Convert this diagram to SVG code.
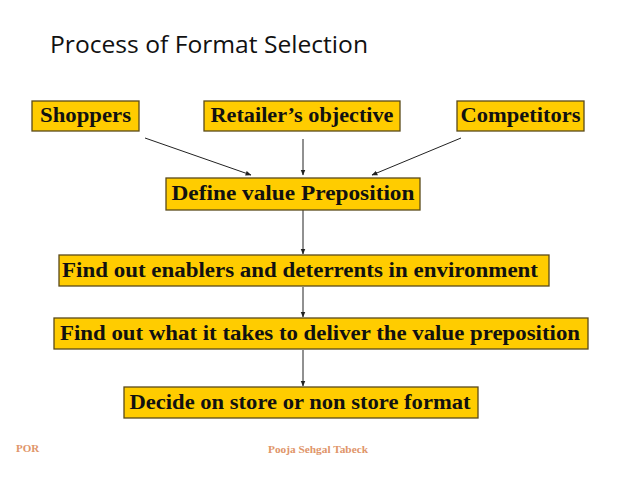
<svg xmlns="http://www.w3.org/2000/svg" width="638" height="478" viewBox="0 0 638 478">
<defs>
<style>
.box{fill:#FFCC00;stroke:#5a4a1a;stroke-width:1.3}
.lbl{font-family:"Liberation Serif","DejaVu Serif",serif;font-weight:bold;font-size:20px;fill:#111;text-anchor:middle}
.conn{stroke:#222;stroke-width:1;fill:none;marker-end:url(#ah)}
.foot{font-family:"Liberation Serif","DejaVu Serif",serif;font-weight:bold;font-size:11px;fill:#e0956a}
</style>
<marker id="ah" viewBox="0 0 10 10" refX="9" refY="5" markerWidth="6" markerHeight="6" orient="auto" markerUnits="userSpaceOnUse">
<path d="M0,1 L10,5 L0,9 z" fill="#222"/>
</marker>
</defs>
<rect width="638" height="478" fill="#fff"/>
<text x="50" y="53" font-family="'Open Sans','Liberation Sans',sans-serif" font-size="24" fill="#111" textLength="318" lengthAdjust="spacingAndGlyphs">Process of Format Selection</text>
<g id="connectors">
<line class="conn" x1="145" y1="138" x2="251" y2="175"/>
<line class="conn" x1="303" y1="139" x2="303" y2="175"/>
<line class="conn" x1="461" y1="138" x2="372" y2="175"/>
<line class="conn" x1="303" y1="210" x2="303" y2="254"/>
<line class="conn" x1="303" y1="287" x2="303" y2="317"/>
<line class="conn" x1="303" y1="350" x2="303" y2="386"/>
</g>
<g id="shoppers"><rect class="box" x="32" y="101" width="107" height="30"/><text class="lbl" x="85.5" y="122" textLength="91" lengthAdjust="spacingAndGlyphs">Shoppers</text></g>
<g id="retailer"><rect class="box" x="204" y="101" width="196" height="30"/><text class="lbl" x="302" y="122" textLength="183" lengthAdjust="spacingAndGlyphs">Retailer’s objective</text></g>
<g id="competitors"><rect class="box" x="457" y="101" width="127" height="30"/><text class="lbl" x="520.5" y="122" textLength="120" lengthAdjust="spacingAndGlyphs">Competitors</text></g>
<g id="define"><rect class="box" x="166" y="178" width="254" height="32"/><text class="lbl" x="293" y="200" textLength="243" lengthAdjust="spacingAndGlyphs">Define value Preposition</text></g>
<g id="enablers"><rect class="box" x="59" y="255" width="490" height="31"/><text class="lbl" x="300" y="277" textLength="476" lengthAdjust="spacingAndGlyphs">Find out enablers and deterrents in environment</text></g>
<g id="deliver"><rect class="box" x="54" y="318" width="534" height="31"/><text class="lbl" x="320" y="340" textLength="520" lengthAdjust="spacingAndGlyphs">Find out what it takes to deliver the value preposition</text></g>
<g id="decide"><rect class="box" x="124" y="387" width="354" height="31"/><text class="lbl" x="300" y="409" textLength="341" lengthAdjust="spacingAndGlyphs">Decide on store or non store format</text></g>
<text class="foot" x="16" y="452">POR</text>
<text class="foot" x="268" y="453" textLength="100" lengthAdjust="spacingAndGlyphs">Pooja Sehgal Tabeck</text>
</svg>
